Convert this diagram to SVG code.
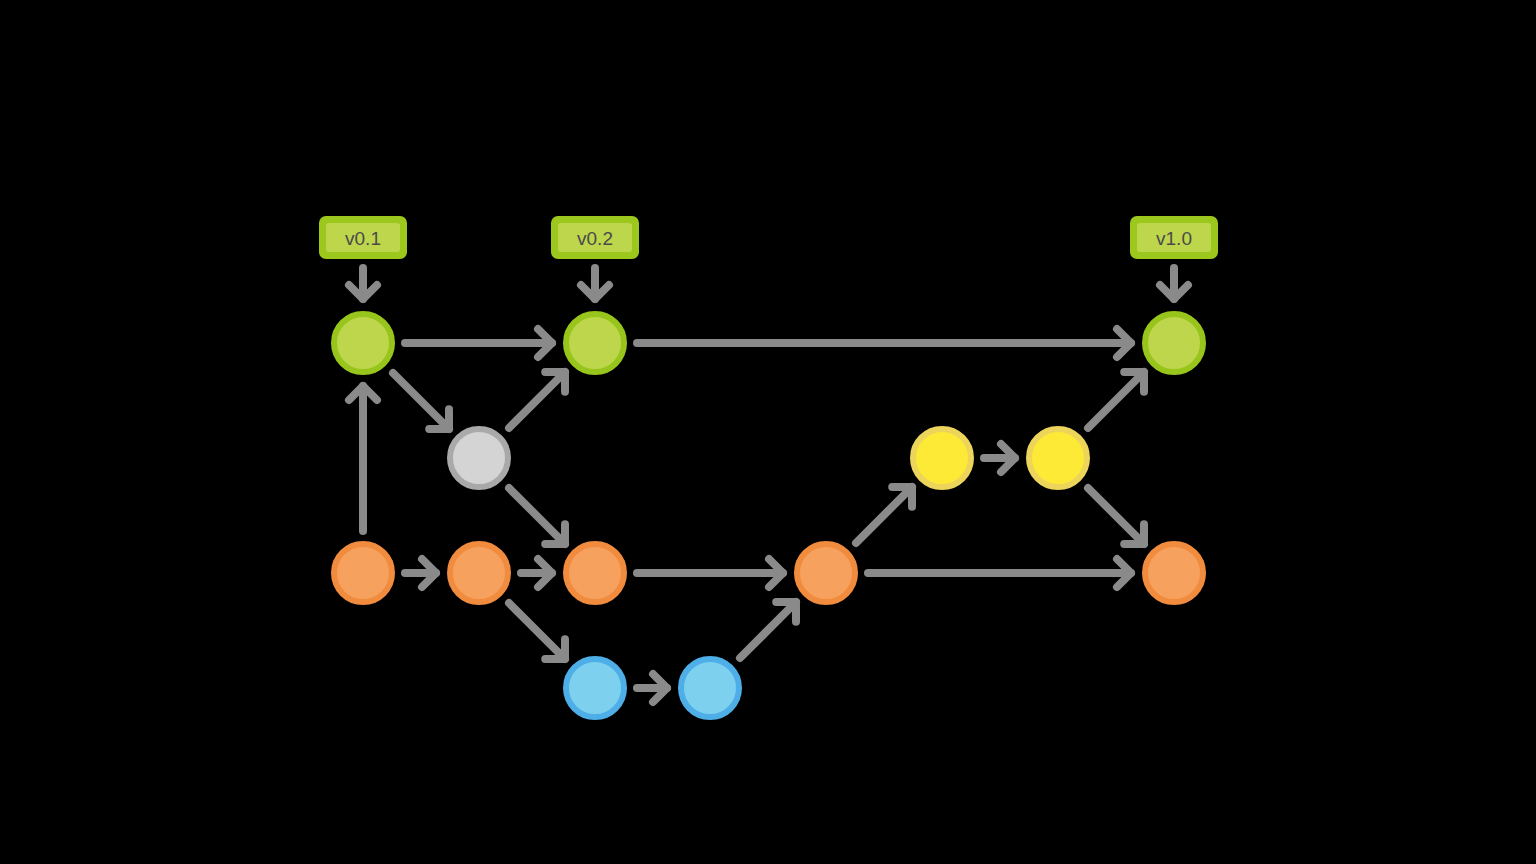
<svg xmlns="http://www.w3.org/2000/svg" width="1536" height="864" viewBox="0 0 1536 864">
<defs>
<style>
.bg{fill:#000}
.c{stroke-width:6}
.green{fill:#bdd64b;stroke:#98c51b}
.orange{fill:#f6a15e;stroke:#f18c3f}
.gray{fill:#d4d4d4;stroke:#a9a9a9}
.yellow{fill:#fcea36;stroke:#ecd55a}
.blue{fill:#7dd0ee;stroke:#4eaee7}
.tago{fill:#9cc71d}
.tagi{fill:#bdd64b}
.tagt{font-family:"Liberation Sans",Arial,sans-serif;font-size:19px;fill:#4a4a4a;text-anchor:middle}
.e{stroke:#8a8a8a;stroke-width:8;stroke-linecap:round;fill:none;marker-end:url(#ah)}
</style>
<marker id="ah" markerUnits="userSpaceOnUse" viewBox="-25 -25 35 50" markerWidth="35" markerHeight="50" refX="0" refY="0" orient="auto" overflow="visible">
<path d="M-14,-14 L0,0 L-14,14" fill="none" stroke="#8a8a8a" stroke-width="8" stroke-linecap="round" stroke-linejoin="round"/>
</marker>
</defs>
<rect class="bg" x="0" y="0" width="1536" height="864"/>
<g id="connectors">
<line class="e" x1="363" y1="268" x2="363" y2="299"/>
<line class="e" x1="595" y1="268" x2="595" y2="299"/>
<line class="e" x1="1174" y1="268" x2="1174" y2="299"/>
<line class="e" x1="405" y1="343" x2="552" y2="343"/>
<line class="e" x1="637" y1="343" x2="1131" y2="343"/>
<line class="e" x1="393" y1="373" x2="449" y2="429"/>
<line class="e" x1="509" y1="428" x2="565" y2="372"/>
<line class="e" x1="509" y1="488" x2="565" y2="544"/>
<line class="e" x1="363" y1="531" x2="363" y2="386"/>
<line class="e" x1="405" y1="573" x2="436" y2="573"/>
<line class="e" x1="521" y1="573" x2="552" y2="573"/>
<line class="e" x1="509" y1="603" x2="565" y2="659"/>
<line class="e" x1="637" y1="688" x2="667" y2="688"/>
<line class="e" x1="740" y1="658" x2="796" y2="602"/>
<line class="e" x1="637" y1="573" x2="783" y2="573"/>
<line class="e" x1="856" y1="543" x2="912" y2="487"/>
<line class="e" x1="984" y1="458" x2="1015" y2="458"/>
<line class="e" x1="1088" y1="428" x2="1144" y2="372"/>
<line class="e" x1="1088" y1="488" x2="1144" y2="544"/>
<line class="e" x1="868" y1="573" x2="1131" y2="573"/>
</g>
<g id="tag-v01">
<rect class="tago" x="319" y="216" width="88" height="43" rx="7"/>
<rect class="tagi" x="326" y="223" width="74" height="29" rx="3"/>
<text class="tagt" x="363" y="244.5">v0.1</text>
</g>
<g id="tag-v02">
<rect class="tago" x="551" y="216" width="88" height="43" rx="7"/>
<rect class="tagi" x="558" y="223" width="74" height="29" rx="3"/>
<text class="tagt" x="595" y="244.5">v0.2</text>
</g>
<g id="tag-v10">
<rect class="tago" x="1130" y="216" width="88" height="43" rx="7"/>
<rect class="tagi" x="1137" y="223" width="74" height="29" rx="3"/>
<text class="tagt" x="1174" y="244.5">v1.0</text>
</g>
<g id="n-g1"><circle class="c green" cx="363" cy="343" r="29"/></g>
<g id="n-g2"><circle class="c green" cx="595" cy="343" r="29"/></g>
<g id="n-g3"><circle class="c green" cx="1174" cy="343" r="29"/></g>
<g id="n-gray"><circle class="c gray" cx="479" cy="458" r="29"/></g>
<g id="n-y1"><circle class="c yellow" cx="942" cy="458" r="29"/></g>
<g id="n-y2"><circle class="c yellow" cx="1058" cy="458" r="29"/></g>
<g id="n-o1"><circle class="c orange" cx="363" cy="573" r="29"/></g>
<g id="n-o2"><circle class="c orange" cx="479" cy="573" r="29"/></g>
<g id="n-o3"><circle class="c orange" cx="595" cy="573" r="29"/></g>
<g id="n-o4"><circle class="c orange" cx="826" cy="573" r="29"/></g>
<g id="n-o5"><circle class="c orange" cx="1174" cy="573" r="29"/></g>
<g id="n-b1"><circle class="c blue" cx="595" cy="688" r="29"/></g>
<g id="n-b2"><circle class="c blue" cx="710" cy="688" r="29"/></g>
</svg>
